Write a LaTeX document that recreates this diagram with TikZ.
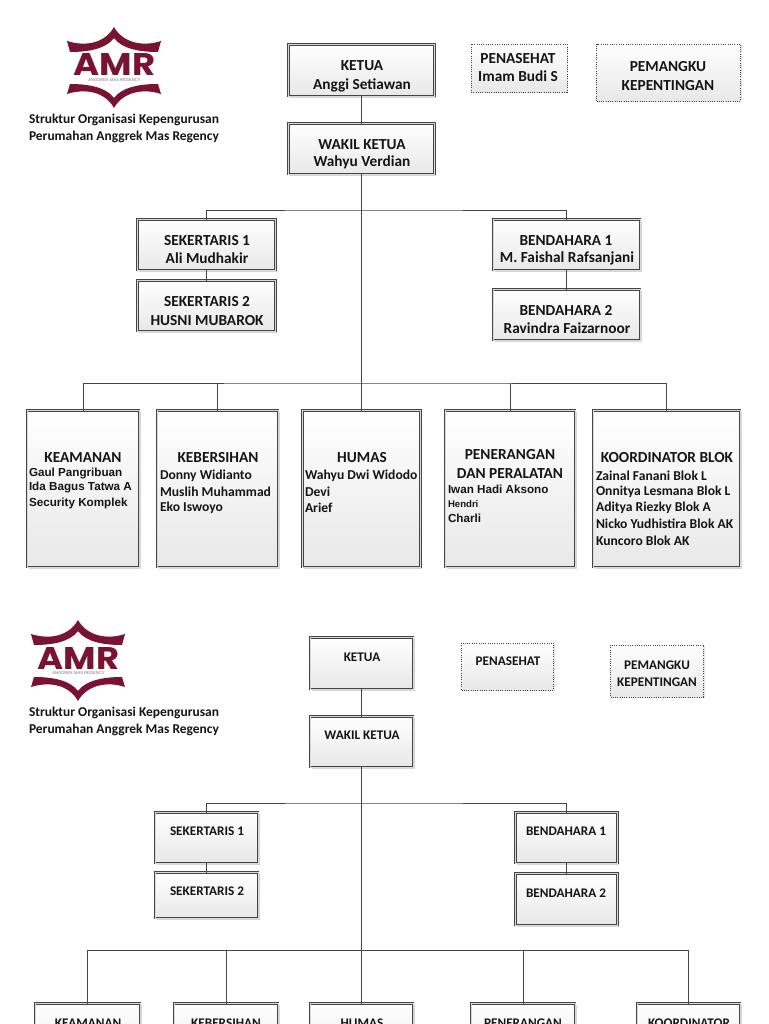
\documentclass[tikz,border=0pt]{standalone}
\usepackage{fontspec}
\usetikzlibrary{shadows,calc}
\setmainfont{Carlito}
\newfontfamily\arifont{Liberation Sans}
\newfontfamily\popfont{Poppins}
\definecolor{amrred}{HTML}{7A1232}
\definecolor{linegray}{HTML}{454545}
\definecolor{inkblack}{HTML}{151515}
\tikzset{
  x=0.75pt,y=-0.75pt,
  boxbase/.style={inner sep=0pt,outer sep=0pt,top color=white,bottom color=black!9},
  orgbox/.style={boxbase,draw=linegray,line width=0.75pt,double=white!85!black,double distance=0.6pt,
    general shadow={shadow xshift=1.2pt,shadow yshift=-1.2pt,fill=black,opacity=.16}},
  dashbox/.style={boxbase,draw=linegray,line width=0.7pt,densely dotted,
    general shadow={shadow xshift=0.8pt,shadow yshift=-0.8pt,fill=black,opacity=.1}},
  lbl/.style={inner sep=0pt,outer sep=0pt,align=center,text=inkblack,yshift=-0.5pt,font=\fontsize{11.5}{15}\selectfont\bfseries},
  lbls/.style={lbl,font=\fontsize{9.9}{13}\selectfont\bfseries},
  listc/.style={lbl,anchor=west,font=\fontsize{10.2}{12}\selectfont\bfseries},
  lista/.style={lbl,anchor=west,font=\arifont\fontsize{8.75}{11}\selectfont\bfseries},
  heading/.style={lbl,anchor=west,font=\fontsize{10.1}{12}\selectfont\bfseries},
  wire/.style={draw=linegray,line width=0.6pt},
  logofill/.style={fill=amrred,draw=none}
}
\newcommand{\orgbox}[6][orgbox]{%
  \pgfmathsetmacro{\bw}{(#5-#3)*0.75}\pgfmathsetmacro{\bh}{(#6-#4)*0.75}%
  \node[#1,minimum width=\bw pt,minimum height=\bh pt] (#2) at ({(#3+#5)/2-0.5},{(#4+#6)/2}) {};}
\newcommand{\amrlogo}[3]{%
  \begin{scope}[shift={(#2,#3)}]
    \fill[logofill] (67,41) .. controls (86,47) and (105,43) .. (114,27)
      .. controls (123,43) and (143,47) .. (161,41) -- (158,52)
      .. controls (140,52) and (122,49) .. (114,38)
      .. controls (106,49) and (88,52) .. (70,52) -- cycle;
    \fill[logofill] (67,94) .. controls (86,88) and (105,92) .. (114,108)
      .. controls (123,92) and (143,88) .. (161,94) -- (158,84)
      .. controls (140,84) and (122,87) .. (114,98)
      .. controls (106,87) and (88,84) .. (70,84) -- cycle;
    \node[inner sep=0pt,text=amrred,xscale=1.13,font=\popfont\fontsize{23.5}{24}\selectfont\bfseries] (#1amr) at (114.5,65) {AMR};
    \node[inner sep=0pt,text=black!55,font=\arifont\fontsize{3.1}{4}\selectfont] (#1sub) at (114.5,80) {ANGGREK MAS REGENCY};
  \end{scope}}
\begin{document}
\begin{tikzpicture}
\path[use as bounding box,clip] (0,0) rectangle (768,1024);
\fill[white] (0,0) rectangle (768,1024);

% ===== upper chart =====
\amrlogo{a}{0}{0}
\node[heading] (ahead1) at (29,119.5) {Struktur Organisasi Kepengurusan};
\node[heading] (ahead2) at (29,136.5) {Perumahan Anggrek Mas Regency};

\orgbox{aket}{289}{44.5}{435}{96}
\orgbox{awak}{289}{123.5}{435}{174}
\orgbox[dashbox]{apen}{471.5}{44}{567.5}{92}
\orgbox[dashbox]{apem}{597}{44}{741}{101}
\orgbox{asek1}{138}{219.5}{276}{270}
\orgbox{asek2}{138}{280.5}{276}{331}
\orgbox{aben1}{493.5}{219.5}{640.5}{270}
\orgbox{aben2}{493.5}{289.5}{640.5}{340}
\orgbox{akea}{27.5}{410.5}{139.5}{567}
\orgbox{akeb}{157.5}{410.5}{278.5}{567}
\orgbox{ahum}{303}{410.5}{421}{567}
\orgbox{apnr}{445.5}{410.5}{575.5}{567}
\orgbox{akoo}{593.5}{410.5}{740.5}{567}

\coordinate (abus1) at (361.5,210);
\coordinate (abus2) at (361.5,383);
\draw[wire] (aket) -- (awak);
\draw[wire] (awak.south) -- (awak.south |- ahum.north);
\draw[wire] (asek1.north) |- (abus1) -| (aben1.north);
\draw[wire] (asek1) -- (asek2);
\draw[wire] (aben1) -- (aben2);
\draw[wire] (akea.north) |- (abus2) -| (akoo.north);
\draw[wire] (akeb.north) -- (akeb.north |- abus2);
\draw[wire] (apnr.north) -- (apnr.north |- abus2);

\node[lbl] (aket1) at (362,65) {KETUA};
\node[lbl] (aket2) at (362,85) {Anggi Setiawan};
\node[lbl] (awak1) at (362,144) {WAKIL KETUA};
\node[lbl] (awak2) at (362,162) {Wahyu Verdian};
\node[lbl] (apen1) at (518,58) {PENASEHAT};
\node[lbl] (apen2) at (518,76) {Imam Budi S};
\node[lbl] (apem1) at (668,66) {PEMANGKU};
\node[lbl] (apem2) at (668,85) {KEPENTINGAN};
\node[lbl] (asek1a) at (207,240) {SEKERTARIS 1};
\node[lbl] (asek1b) at (207,258) {Ali Mudhakir};
\node[lbl] (asek2a) at (207,301) {SEKERTARIS 2};
\node[lbl] (asek2b) at (207,320) {HUSNI MUBAROK};
\node[lbl] (aben1a) at (566,240) {BENDAHARA 1};
\node[lbl] (aben1b) at (567,258) {M. Faishal Rafsanjani};
\node[lbl] (aben2a) at (566,310) {BENDAHARA 2};
\node[lbl] (aben2b) at (567,328) {Ravindra Faizarnoor};

\node[lbl] (akeat) at (83,457) {KEAMANAN};
\node[lista] (akea1) at (29,473) {Gaul Pangribuan};
\node[lista] (akea2) at (29,487) {Ida Bagus Tatwa A};
\node[lista] (akea3) at (29,503) {Security Komplek};
\node[lbl] (akebt) at (218,457) {KEBERSIHAN};
\node[listc] (akeb1) at (160,475) {Donny Widianto};
\node[listc] (akeb2) at (160,491) {Muslih Muhammad};
\node[listc] (akeb3) at (160,507) {Eko Iswoyo};
\node[lbl] (ahumt) at (362,457) {HUMAS};
\node[listc] (ahum1) at (305,475) {Wahyu Dwi Widodo};
\node[listc] (ahum2) at (305,491) {Devi};
\node[listc] (ahum3) at (305,507) {Arief};
\node[lbl] (apnrt1) at (510,454) {PENERANGAN};
\node[lbl] (apnrt2) at (510,473) {DAN PERALATAN};
\node[lista] (apnr1) at (448,489) {Iwan Hadi Aksono};
\node[lista,font=\arifont\fontsize{7.2}{9}\selectfont\bfseries] (apnr2) at (448,503) {Hendri};
\node[lista] (apnr3) at (448,518) {Charli};
\node[lbl] (akoot) at (667,457) {KOORDINATOR BLOK};
\node[listc] (akoo1) at (596,475) {Zainal Fanani Blok L};
\node[listc] (akoo2) at (596,491) {Onnitya Lesmana Blok L};
\node[listc] (akoo3) at (596,507) {Aditya Riezky Blok A};
\node[listc] (akoo4) at (596,523) {Nicko Yudhistira Blok AK};
\node[listc] (akoo5) at (596,540) {Kuncoro Blok AK};

% ===== lower chart =====
\amrlogo{b}{-36}{593}
\node[heading] (bhead1) at (29,712.5) {Struktur Organisasi Kepengurusan};
\node[heading] (bhead2) at (29,729.5) {Perumahan Anggrek Mas Regency};

\orgbox{bket}{310.5}{637.5}{413.5}{689}
\orgbox{bwak}{310.5}{716.5}{413.5}{767}
\orgbox[dashbox]{bpen}{462}{643}{554}{690}
\orgbox[dashbox]{bpem}{611}{645}{704}{697}
\orgbox{bsek1}{155.5}{812.5}{258.5}{863}
\orgbox{bsek2}{155.5}{872.5}{258.5}{918}
\orgbox{bben1}{516}{812.5}{618}{863}
\orgbox{bben2}{516}{873.5}{618}{925}
\orgbox{bkea}{35.5}{1003.5}{140.5}{1070}
\orgbox{bkeb}{174.5}{1003.5}{278.5}{1070}
\orgbox{bhum}{310.5}{1003.5}{413.5}{1070}
\orgbox{bpnr}{471.5}{1003.5}{575.5}{1070}
\orgbox{bkoo}{637.5}{1003.5}{740.5}{1070}

\coordinate (bbus1) at (361.5,803);
\coordinate (bbus2) at (361.5,950);
\draw[wire] (bket) -- (bwak);
\draw[wire] (bwak.south) -- (bwak.south |- bhum.north);
\draw[wire] (bsek1.north) |- (bbus1) -| (bben1.north);
\draw[wire] (bsek1) -- (bsek2);
\draw[wire] (bben1) -- (bben2);
\draw[wire] (bkea.north) |- (bbus2) -| (bkoo.north);
\draw[wire] (bkeb.north) -- (bkeb.north |- bbus2);
\draw[wire] (bpnr.north) -- (bpnr.north |- bbus2);

\node[lbls] (bket1) at (362,657) {KETUA};
\node[lbls] (bwak1) at (362,735) {WAKIL KETUA};
\node[lbls] (bpen1) at (508,661) {PENASEHAT};
\node[lbls] (bpem1) at (657,665) {PEMANGKU};
\node[lbls] (bpem2) at (657,682) {KEPENTINGAN};
\node[lbls] (bsek1t) at (207,831) {SEKERTARIS 1};
\node[lbls] (bsek2t) at (207,891) {SEKERTARIS 2};
\node[lbls] (bben1t) at (566,831) {BENDAHARA 1};
\node[lbls] (bben2t) at (566,892) {BENDAHARA 2};
\node[lbls] (bkeat) at (88,1023) {KEAMANAN};
\node[lbls] (bkebt) at (226,1023) {KEBERSIHAN};
\node[lbls] (bhumt) at (362,1023) {HUMAS};
\node[lbls] (bpnrt) at (523,1023) {PENERANGAN};
\node[lbls] (bkoot) at (689,1023) {KOORDINATOR};
\end{tikzpicture}
\end{document}
